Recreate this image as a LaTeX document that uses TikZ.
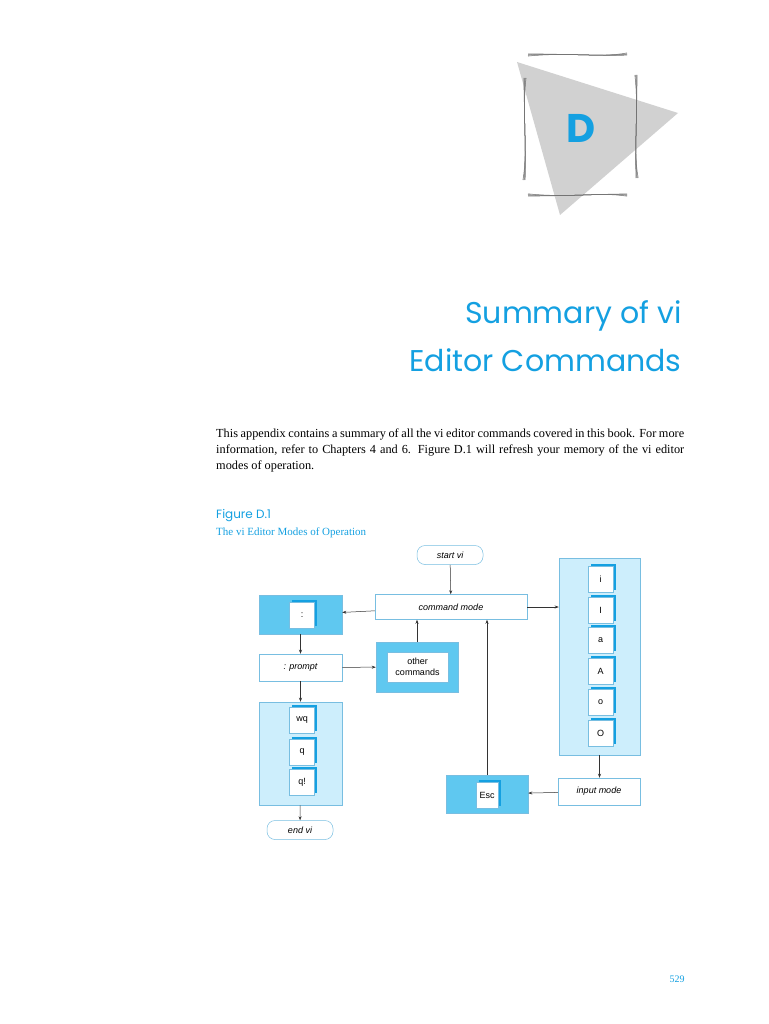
\documentclass[tikz,border=0pt]{standalone}
\usepackage{fontspec}
\setmainfont{Liberation Serif}
\newfontfamily\diafont{Liberation Sans}
\newfontfamily\headfont{Poppins}
\usetikzlibrary{arrows.meta}
\definecolor{hblue}{RGB}{20,160,225}
\definecolor{grpl}{RGB}{205,238,252}
\definecolor{grpd}{RGB}{95,200,240}
\definecolor{edge}{RGB}{120,190,225}
\begin{document}
\begin{tikzpicture}[x=1pt,y=-1pt,
  box/.style={draw=edge,fill=white,line width=0.5pt,font=\diafont\itshape\fontsize{9}{10}\selectfont,inner sep=0pt},
  grp/.style={draw=edge,fill=grpl,line width=0.5pt,inner sep=0pt},
  grpdark/.style={draw=edge,fill=grpd,line width=0.5pt,inner sep=0pt},
  keyb/.style={draw=edge,fill=white,line width=0.4pt,inner sep=0pt,minimum width=25pt,minimum height=26pt,font=\diafont\fontsize{9}{10}\selectfont,
     preaction={fill=hblue,transform canvas={xshift=2.5pt,yshift=2.5pt}}},
  term/.style={box,rounded corners=8pt,minimum width=66pt,minimum height=19pt},
  arr/.style={-{Stealth[length=4pt,width=3pt]},line width=0.5pt,draw=black!80}]
\useasboundingbox (0,0) rectangle (768,1024);
% chapter emblem
\fill[black!18] (517,62) -- (678,113) -- (560,215) -- cycle;
\foreach \d in {-1.2,-0.4,0.3,1.1}{
  \draw[black!55,line width=0.5pt] (528,55+\d) .. controls (570,53-\d) and (600,57+\d) .. (627,54-\d);
  \draw[black!55,line width=0.5pt] (528,195+\d) .. controls (570,197-\d) and (600,193+\d) .. (627,195-\d);
  \draw[black!55,line width=0.5pt] (525+\d,78) .. controls (523-\d,110) and (527+\d,150) .. (524-\d,180);
  \draw[black!55,line width=0.5pt] (636+\d,75) .. controls (638-\d,110) and (634+\d,150) .. (637-\d,178);
}
\node[text=hblue,font=\headfont\bfseries\fontsize{40}{40}\selectfont] (D) at (581,128) {D};
% title
\node[anchor=east,text=hblue,font=\headfont\fontsize{30}{34}\selectfont] (t1) at (685,316) {Summary of vi};
\node[anchor=east,text=hblue,font=\headfont\fontsize{30}{34}\selectfont] (t2) at (685,360) {Editor Commands};
\node[anchor=north west,inner sep=0pt,text width=468pt,align=justify,font=\fontsize{12.3}{16}\selectfont] (para) at (216,429)
 {This appendix contains a summary of all the vi editor commands covered in this book. For more information, refer to Chapters 4 and 6. Figure D.1 will refresh your memory of the vi editor modes of operation.};
\node[anchor=west,inner sep=0pt,text=hblue,font=\headfont\fontsize{12}{14}\selectfont] (fig) at (216,516) {Figure D.1};
\node[anchor=west,inner sep=0pt,text=hblue,font=\fontsize{11}{13}\selectfont] (cap) at (216,533) {The vi Editor Modes of Operation};
% diagram
\node[term] (start) at (450,555) {start vi};
\node[box,minimum width=152pt,minimum height=25pt] (cmd) at (451,607) {command mode};
\node[grpdark,minimum width=83pt,minimum height=39pt] (colg) at (300.5,614.5) {};
\node[keyb] (colon) at (302,615) {:};
\node[box,minimum width=83pt,minimum height=27pt] (prompt) at (300.5,667.5) {: prompt};
\node[grpdark,minimum width=82pt,minimum height=50pt] (othg) at (417,667) {};
\node[draw=edge,fill=white,minimum width=61pt,minimum height=30pt,inner sep=0pt,align=center,font=\diafont\fontsize{9}{10.5}\selectfont] (oth) at (417.5,667) {other\\commands};
\node[grp,minimum width=83pt,minimum height=103pt] (qg) at (300.5,753.5) {};
\node[keyb] (wq) at (302,720.5) {wq};
\node[keyb] (q) at (302,752) {q};
\node[keyb] (qx) at (302,782.5) {q!};
\node[term] (end) at (300,830) {end vi};
\node[grp,minimum width=81pt,minimum height=197pt] (ig) at (599.5,656.5) {};
\node[keyb] (ki) at (600.5,579) {i};
\node[keyb] (kI) at (600.5,610) {I};
\node[keyb] (ka) at (600.5,640.5) {a};
\node[keyb] (kA) at (600.5,671.5) {A};
\node[keyb] (ko) at (600.5,702.5) {o};
\node[keyb] (kO) at (600.5,733.5) {O};
\node[box,minimum width=82pt,minimum height=27pt] (inp) at (599,791.5) {input mode};
\node[grpdark,minimum width=82pt,minimum height=38pt] (escg) at (487,794) {};
\node[keyb,minimum width=22pt] (esc) at (487,795) {Esc};
\draw[arr] (start) -- (cmd);
\draw[arr] (cmd) -- (colg);
\draw[arr] (cmd) -- (ig.west |- cmd);
\draw[arr] (colg) -- (prompt);
\draw[arr] (prompt) -- (othg);
\draw[arr] (othg) -- (othg |- cmd.south);
\draw[arr] (prompt) -- (qg);
\draw[arr] (qg) -- (end);
\draw[arr] (ig) -- (ig |- inp.north);
\draw[arr] (inp) -- (escg);
\draw[arr] (escg) -- (escg |- cmd.south);
\node[text=hblue,font=\fontsize{10}{12}\selectfont] (pg) at (677,979) {529};
\end{tikzpicture}
\end{document}
